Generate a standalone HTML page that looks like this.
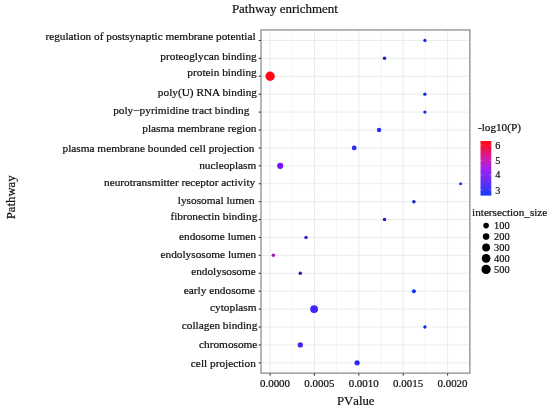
<!DOCTYPE html>
<html lang="en"><head><meta charset="utf-8"><title>Pathway enrichment</title>
<style>html,body{margin:0;padding:0;background:#fff}body{width:550px;height:411px;overflow:hidden}svg{display:block}text{font-family:"Liberation Serif","DejaVu Serif",serif;fill:#111;stroke:#111;stroke-width:0.22px;stroke-linejoin:round}</style></head><body>
<svg width="550" height="411" viewBox="0 0 550 411">
<rect x="0" y="0" width="550" height="411" fill="#ffffff"/>
<g stroke="#e3e8e8" stroke-width="0.85" fill="none">
<line x1="270.10" y1="29.95" x2="270.10" y2="373.1"/>
<line x1="314.47" y1="29.95" x2="314.47" y2="373.1"/>
<line x1="358.84" y1="29.95" x2="358.84" y2="373.1"/>
<line x1="403.21" y1="29.95" x2="403.21" y2="373.1"/>
<line x1="447.58" y1="29.95" x2="447.58" y2="373.1"/>
</g>
<g stroke="#e5e9e9" stroke-width="0.8" fill="none">
<line x1="261.0" y1="40.45" x2="469.9" y2="40.45"/>
<line x1="261.0" y1="58.36" x2="469.9" y2="58.36"/>
<line x1="261.0" y1="76.27" x2="469.9" y2="76.27"/>
<line x1="261.0" y1="94.18" x2="469.9" y2="94.18"/>
<line x1="261.0" y1="112.09" x2="469.9" y2="112.09"/>
<line x1="261.0" y1="130.00" x2="469.9" y2="130.00"/>
<line x1="261.0" y1="147.91" x2="469.9" y2="147.91"/>
<line x1="261.0" y1="165.82" x2="469.9" y2="165.82"/>
<line x1="261.0" y1="183.73" x2="469.9" y2="183.73"/>
<line x1="261.0" y1="201.64" x2="469.9" y2="201.64"/>
<line x1="261.0" y1="219.55" x2="469.9" y2="219.55"/>
<line x1="261.0" y1="237.46" x2="469.9" y2="237.46"/>
<line x1="261.0" y1="255.37" x2="469.9" y2="255.37"/>
<line x1="261.0" y1="273.28" x2="469.9" y2="273.28"/>
<line x1="261.0" y1="291.19" x2="469.9" y2="291.19"/>
<line x1="261.0" y1="309.10" x2="469.9" y2="309.10"/>
<line x1="261.0" y1="327.01" x2="469.9" y2="327.01"/>
<line x1="261.0" y1="344.92" x2="469.9" y2="344.92"/>
<line x1="261.0" y1="362.83" x2="469.9" y2="362.83"/>
</g>
<g stroke="#e8ecec" stroke-width="0.55" fill="none">
<line x1="292.29" y1="29.95" x2="292.29" y2="373.1"/>
<line x1="336.66" y1="29.95" x2="336.66" y2="373.1"/>
<line x1="381.03" y1="29.95" x2="381.03" y2="373.1"/>
<line x1="425.39" y1="29.95" x2="425.39" y2="373.1"/>
</g>
<circle cx="424.9" cy="40.45" r="1.65" fill="#1226f2"/>
<circle cx="384.5" cy="58.36" r="1.75" fill="#1a1fb8"/>
<circle cx="270.1" cy="76.27" r="4.70" fill="#ff0a14"/>
<circle cx="424.9" cy="94.18" r="1.65" fill="#1226f2"/>
<circle cx="424.9" cy="112.09" r="1.65" fill="#1226f2"/>
<circle cx="379.1" cy="130.00" r="2.20" fill="#2030f5"/>
<circle cx="354.2" cy="147.91" r="2.40" fill="#2a2cf5"/>
<circle cx="280.2" cy="165.82" r="3.10" fill="#7814f6"/>
<circle cx="460.6" cy="183.73" r="1.55" fill="#1a35f8"/>
<circle cx="413.9" cy="201.64" r="1.75" fill="#1a20b8"/>
<circle cx="384.5" cy="219.55" r="1.75" fill="#1a1fb8"/>
<circle cx="306.0" cy="237.46" r="1.75" fill="#3a1cd0"/>
<circle cx="273.4" cy="255.37" r="1.75" fill="#a012c0"/>
<circle cx="300.3" cy="273.28" r="1.75" fill="#3414c8"/>
<circle cx="413.9" cy="291.19" r="2.00" fill="#1433f8"/>
<circle cx="314.1" cy="309.10" r="3.95" fill="#4227fb"/>
<circle cx="424.9" cy="327.01" r="1.65" fill="#1226f2"/>
<circle cx="300.3" cy="344.92" r="2.65" fill="#4a22f0"/>
<circle cx="357.1" cy="362.83" r="2.65" fill="#2a2af8"/>
<rect x="261.0" y="29.95" width="208.9" height="343.2" fill="none" stroke="#808686" stroke-width="1.2"/>
<g stroke="#2a2a2a" stroke-width="1.1">
<line x1="258.7" y1="40.45" x2="260.7" y2="40.45"/>
<line x1="258.7" y1="58.36" x2="260.7" y2="58.36"/>
<line x1="258.7" y1="76.27" x2="260.7" y2="76.27"/>
<line x1="258.7" y1="94.18" x2="260.7" y2="94.18"/>
<line x1="258.7" y1="112.09" x2="260.7" y2="112.09"/>
<line x1="258.7" y1="130.00" x2="260.7" y2="130.00"/>
<line x1="258.7" y1="147.91" x2="260.7" y2="147.91"/>
<line x1="258.7" y1="165.82" x2="260.7" y2="165.82"/>
<line x1="258.7" y1="183.73" x2="260.7" y2="183.73"/>
<line x1="258.7" y1="201.64" x2="260.7" y2="201.64"/>
<line x1="258.7" y1="219.55" x2="260.7" y2="219.55"/>
<line x1="258.7" y1="237.46" x2="260.7" y2="237.46"/>
<line x1="258.7" y1="255.37" x2="260.7" y2="255.37"/>
<line x1="258.7" y1="273.28" x2="260.7" y2="273.28"/>
<line x1="258.7" y1="291.19" x2="260.7" y2="291.19"/>
<line x1="258.7" y1="309.10" x2="260.7" y2="309.10"/>
<line x1="258.7" y1="327.01" x2="260.7" y2="327.01"/>
<line x1="258.7" y1="344.92" x2="260.7" y2="344.92"/>
<line x1="258.7" y1="362.83" x2="260.7" y2="362.83"/>
<line x1="270.10" y1="373.4" x2="270.10" y2="375.6"/>
<line x1="314.47" y1="373.4" x2="314.47" y2="375.6"/>
<line x1="358.84" y1="373.4" x2="358.84" y2="375.6"/>
<line x1="403.21" y1="373.4" x2="403.21" y2="375.6"/>
<line x1="447.58" y1="373.4" x2="447.58" y2="375.6"/>
</g>
<g font-size="11.31" text-anchor="end">
<text x="255.6" y="40.45">regulation of postsynaptic membrane potential</text>
<text x="256.7" y="59.95">proteoglycan binding</text>
<text x="256.7" y="76.00">protein binding</text>
<text x="257.0" y="96.35">poly(U) RNA binding</text>
<text x="249.4" y="113.65">poly−pyrimidine tract binding</text>
<text x="256.5" y="132.45">plasma membrane region</text>
<text x="254.5" y="152.05">plasma membrane bounded cell projection</text>
<text x="256.3" y="168.95">nucleoplasm</text>
<text x="255.2" y="186.05">neurotransmitter receptor activity</text>
<text x="254.7" y="203.75">lysosomal lumen</text>
<text x="257.3" y="219.95">fibronectin binding</text>
<text x="255.9" y="239.85">endosome lumen</text>
<text x="256.2" y="258.15">endolysosome lumen</text>
<text x="255.8" y="275.25">endolysosome</text>
<text x="255.0" y="293.85">early endosome</text>
<text x="256.5" y="311.45">cytoplasm</text>
<text x="257.4" y="328.90">collagen binding</text>
<text x="257.4" y="347.65">chromosome</text>
<text x="255.8" y="367.35">cell projection</text>
</g>
<g font-size="10.95" text-anchor="middle">
<text x="275.0" y="386.6">0.0000</text>
<text x="319.4" y="386.6">0.0005</text>
<text x="363.7" y="386.6">0.0010</text>
<text x="408.1" y="386.6">0.0015</text>
<text x="452.5" y="386.6">0.0020</text>
</g>
<text x="284.9" y="12.9" font-size="12.95" text-anchor="middle">Pathway enrichment</text>
<text x="355.75" y="405.45" font-size="12.75" text-anchor="middle" style="font-kerning:none">PValue</text>
<text transform="translate(14.5,197.3) rotate(-90)" font-size="12.75" text-anchor="middle">Pathway</text>
<defs><linearGradient id="cb" x1="0" y1="1" x2="0" y2="0"><stop offset="0" stop-color="#1c36ff"/><stop offset="0.08" stop-color="#2a36fc"/><stop offset="0.27" stop-color="#6a2cf8"/><stop offset="0.5" stop-color="#a422f0"/><stop offset="0.74" stop-color="#dc1a8c"/><stop offset="0.93" stop-color="#fb0c24"/><stop offset="1" stop-color="#ff0a14"/></linearGradient></defs>
<text x="478.0" y="131.1" font-size="11.2">-log10(P)</text>
<rect x="480.5" y="141" width="10.8" height="54.6" fill="url(#cb)"/>
<g stroke="#ffffff" stroke-opacity="0.55" stroke-width="0.5">
<line x1="480.5" y1="145.3" x2="482.6" y2="145.3"/><line x1="489.2" y1="145.3" x2="491.3" y2="145.3"/>
<line x1="480.5" y1="160.2" x2="482.6" y2="160.2"/><line x1="489.2" y1="160.2" x2="491.3" y2="160.2"/>
<line x1="480.5" y1="174.8" x2="482.6" y2="174.8"/><line x1="489.2" y1="174.8" x2="491.3" y2="174.8"/>
<line x1="480.5" y1="189.9" x2="482.6" y2="189.9"/><line x1="489.2" y1="189.9" x2="491.3" y2="189.9"/>
</g>
<g font-size="10.2">
<text x="495.3" y="148.9">6</text>
<text x="495.3" y="163.8">5</text>
<text x="495.3" y="178.4">4</text>
<text x="495.3" y="193.5">3</text>
</g>
<text x="472.1" y="216.0" font-size="11.2">intersection_size</text>
<g fill="#000000">
<circle cx="486.1" cy="225.6" r="2.80"/>
<circle cx="486.1" cy="236.6" r="3.30"/>
<circle cx="486.1" cy="247.5" r="3.90"/>
<circle cx="486.1" cy="258.3" r="4.35"/>
<circle cx="486.1" cy="269.4" r="4.65"/>
</g>
<g font-size="10.4">
<text x="494.1" y="228.8">100</text>
<text x="494.1" y="239.8">200</text>
<text x="494.1" y="250.7">300</text>
<text x="494.1" y="261.5">400</text>
<text x="494.1" y="272.6">500</text>
</g>
</svg></body></html>
